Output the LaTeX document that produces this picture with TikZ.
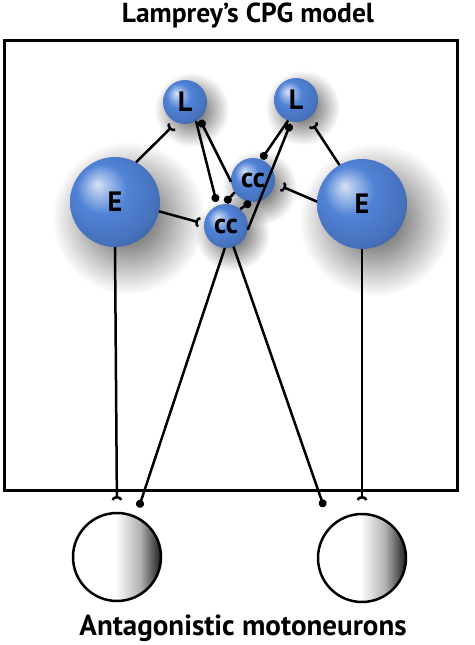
\documentclass[tikz,border=0pt]{standalone}
\usepackage{fontspec}
\setsansfont{PT Sans}
\usetikzlibrary{arrows.meta,fadings}

\definecolor{sphbase}{RGB}{80,130,214}
\definecolor{sphlight}{RGB}{214,226,246}
\pgfdeclareradialshading{sphere}{\pgfpoint{-10bp}{10bp}}{color(0bp)=(sphlight); color(4bp)=(sphlight!70!sphbase); color(14bp)=(sphbase); color(27bp)=(sphbase!88!black); color(37bp)=(sphbase!65!black); color(50bp)=(sphbase!65!black)}
\pgfdeclarehorizontalshading{motor}{100bp}{color(0bp)=(white); color(49bp)=(white); color(63bp)=(black!30); color(75bp)=(black!88); color(100bp)=(black!88)}
\tikzfading[name=shadowfade, inner color=transparent!0, outer color=transparent!100]

\tikzstyle{sphere}=[circle,shading=sphere,inner sep=0pt,outer sep=0pt,font=\sffamily\bfseries\fontsize{28}{28}\selectfont]
\tikzstyle{bigsphere}=[sphere,minimum size=90pt]
\tikzstyle{smallsphere}=[sphere,minimum size=44pt]
\tikzstyle{motor}=[circle,draw,line width=2.5pt,shading=motor,minimum size=88pt,inner sep=0pt,outer sep=0pt]
\tikzstyle{excite}=[draw,line width=2.5pt,-{Arc Barb[reversed,width=11pt,length=4pt]}]
\tikzstyle{inhibit}=[draw,line width=2.5pt,-{Circle[length=8pt]}]
\tikzstyle{heading}=[font=\sffamily\bfseries\fontsize{27.5}{28}\selectfont]

\begin{document}
\begin{tikzpicture}[x=1pt,y=-1pt]
   \useasboundingbox (0,0) rectangle (474,645);

    % soft shadows behind the cells
    \foreach \pos/ \r in {{(185,102)}/22,{(296,100)}/22,{(253,180)}/22,{(226,226)}/22,{(115,202)}/45,{(362,204)}/45}
        \fill[black,opacity=0.7,path fading=shadowfade] \pos ++({0.3*\r},{0.35*\r}) circle ({1.7*\r*1pt});

   \draw[line width=3pt] (4,40) rectangle (457,490);

    \foreach \pos/ \name / \label in {{(185,102)}/Ll/L,{(296,100)}/Lr/L}
        \node[smallsphere] (\name) at \pos {\label};
    \foreach \pos/ \name / \label in {{(253,180)}/ccu/cc,{(226,226)}/ccl/cc}
        \node[smallsphere] (\name) at \pos {\label};
    \foreach \pos/ \name / \label in {{(115,202)}/El/E,{(362,204)}/Er/E}
        \node[bigsphere] (\name) at \pos {\label};
    \foreach \pos/ \name in {{(117,557)}/mnl,{(362,558)}/mnr}
        \node[motor] (\name) at \pos {};

    % excitatory connections (bar ends)
    \foreach \source/ \dest / \gap in {El.62/Ll.247/6,Er.120/Lr.305/8,Er.177/ccu.351/8,El.348/ccl.174/5,El.south/mnl.north/13,Er.south/mnr.north/14}
        \draw[excite,shorten >=\gap pt] (\source) -- (\dest);

    % inhibitory connections (dot ends)
    \foreach \source/ \dest / \gap in {Ll.300/ccl.113/4,ccu.185/Ll.311/1.5,ccu.214/ccl.96/2,ccl.50/ccu.264/0,Lr.249/ccu.68/0.5,ccl.350/Lr.258/2.5,ccl.267/mnl.65/10,ccl.290/mnr.135/21}
        \draw[inhibit,shorten >=\gap pt] (\source) -- (\dest);

   \node[heading] (title) at (248,16) {Lamprey's CPG model};
   \node[heading,font=\sffamily\bfseries\fontsize{29}{29}\selectfont] (caption) at (243,628) {Antagonistic motoneurons};
\end{tikzpicture}
\end{document}
